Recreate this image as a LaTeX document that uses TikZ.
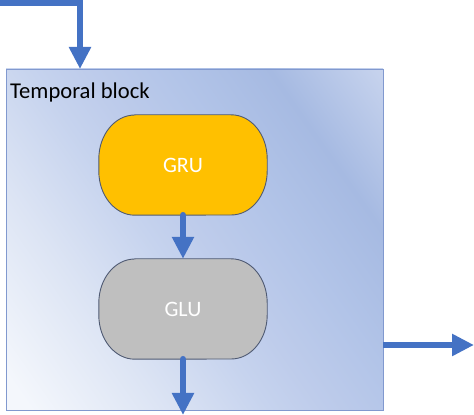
\documentclass[tikz,border=0pt]{standalone}
\usepackage{fontspec}
\setmainfont{Carlito}
\usetikzlibrary{arrows.meta,calc}
\definecolor{arrowblue}{HTML}{4472C4}
\definecolor{blkA}{HTML}{F4F7FC}
\definecolor{blkA2}{HTML}{DCE4F4}
\definecolor{blkB}{HTML}{C6D3EE}
\definecolor{blkB2}{HTML}{BECCEB}
\definecolor{blkB3}{HTML}{B2C4E8}
\definecolor{blkC}{HTML}{A6BAE2}
\definecolor{blkD}{HTML}{C8D4EE}
\definecolor{blkedge}{HTML}{8199CF}
\definecolor{gold}{HTML}{FFC000}
\definecolor{greybox}{HTML}{BFBFBF}
\definecolor{boxedge}{HTML}{4F5A73}
\pgfdeclarehorizontalshading{blkshade}{100bp}{color(0bp)=(blkA); color(18bp)=(blkA); color(33bp)=(blkA2); color(45bp)=(blkB); color(51bp)=(blkB2); color(61bp)=(blkB3); color(72bp)=(blkC); color(85bp)=(blkD); color(100bp)=(blkD)}
\tikzset{
  blockbox/.style={draw=blkedge, line width=0.8pt, shading=blkshade, shading angle=35, minimum width=377pt, minimum height=341pt, inner sep=0pt},
  stage/.style={minimum width=168pt, minimum height=100pt, inner sep=0pt, text=white, font=\fontsize{22}{26}\selectfont},
  stageline/.style={draw=boxedge, line width=0.9pt},
  flow/.style={draw=arrowblue, line width=6.5pt, -{Triangle[width=21pt,length=22pt]}},
  lbl/.style={font=\fontsize{22.6}{27}\selectfont, text=black, inner sep=0pt, anchor=base west}
}
% stadium outline around a named node: #1 node, #2 fill colour
\newcommand\stadiumshape[2]{%
  \path[stageline, fill=#2]
    ($(#1.north west)+(36,0)$) -- ($(#1.north east)+(-36,0)$)
    arc[start angle=90, end angle=0, x radius=36, y radius=44]
    -- ($(#1.east)+(0,-6)$)
    arc[start angle=0, end angle=-90, x radius=36, y radius=44]
    -- ($(#1.south west)+(36,0)$)
    arc[start angle=-90, end angle=-180, x radius=36, y radius=44]
    -- ($(#1.west)+(0,6)$)
    arc[start angle=180, end angle=90, x radius=36, y radius=44]
    -- cycle;}
\begin{document}
\begin{tikzpicture}[x=1pt,y=1pt]
\useasboundingbox (0,0) rectangle (474,415);
\node[blockbox] (block) at (194.5,175.5) {};
\node[lbl] (title) at (10,316) {Temporal block};
\node[stage] (gru) at (183,250) {};
\node[stage] (glu) at (183,106) {};
\stadiumshape{gru}{gold}
\stadiumshape{glu}{greybox}
\node[stage] at (gru.center) {GRU};
\node[stage] at (glu.center) {GLU};
\coordinate (inp) at (0,412);
\coordinate (entry) at (80,346);
\coordinate (bottom) at (183,0);
\coordinate (outp) at (474,70);
\draw[flow, line join=miter] (inp) -| (entry);
\draw[flow, line cap=round] (gru.south) -- (glu.north);
\draw[flow, line cap=round] (glu.south) -- (bottom);
\draw[flow] (block.east |- outp) -- (outp);
\end{tikzpicture}
\end{document}
